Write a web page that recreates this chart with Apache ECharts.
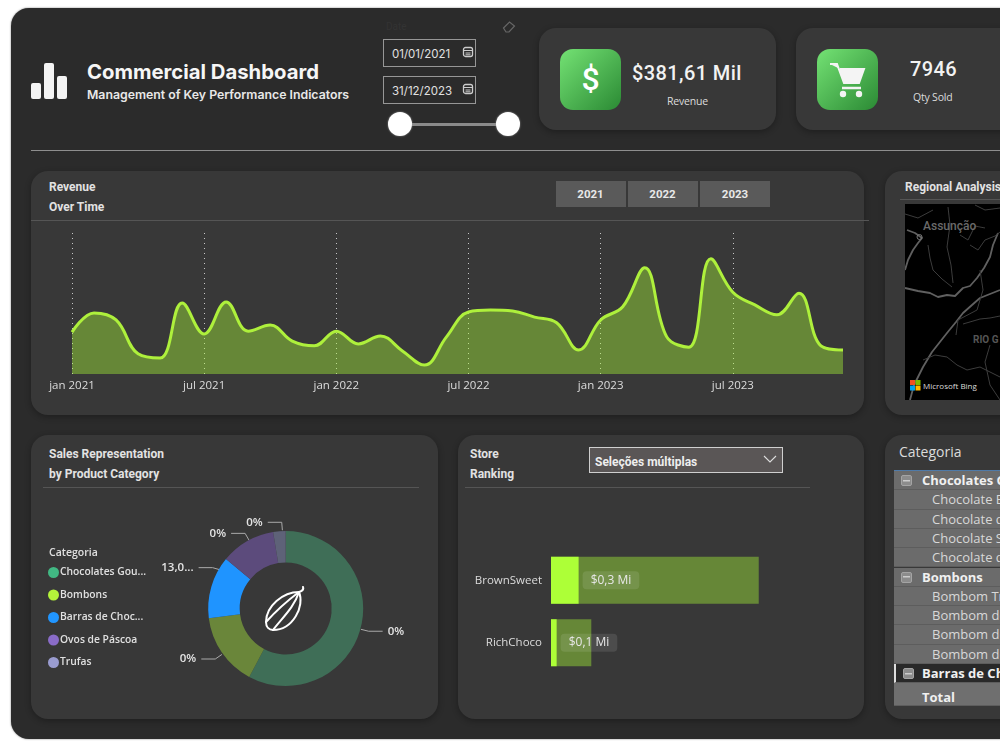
<!DOCTYPE html>
<html>
<head>
<meta charset="utf-8">
<title>Commercial Dashboard</title>
<script src="https://cdn.jsdelivr.net/npm/echarts@6/dist/echarts.min.js"></script>
<style>
	html, body {margin:0; padding:0; background:#fff; width:1000px; height:750px; overflow:hidden;}
	#stage {position:relative; width:1000px; height:750px; overflow:hidden; font-family:Roboto, sans-serif; color:#e4e4e4;}
	#stage div, #stage svg {position:absolute;}
	.board {left:11px; top:8px; width:1040px; height:731px; background:#2b2b2b; border-radius:18px; box-shadow:0 0 2px #777;}
	.panel {background:#383838; border-radius:17px; box-shadow:0 2px 6px rgba(0,0,0,.3);}
	.rule {height:1px; background:#555;}
	.title {font-weight:700; font-size:12px; line-height:15px; white-space:nowrap; color:#e2e2e2;}
	.datebox {left:383px; width:91px; height:26px; border:1.5px solid #969696; font:11.5px/28px Inter, sans-serif; text-indent:8px; color:#e0e0e0;}
	.year {top:181px; width:70px; height:26px; background:#5a5a5a; text-align:center; font:700 11.5px/26px Roboto, sans-serif; color:#e8e8e8;}
	.icon {width:61px; height:61px; top:49px; border-radius:13px; background:linear-gradient(135deg,#74e274,#2b8a34);}
	.kpi {font:500 20px/24px Roboto, sans-serif; letter-spacing:.4px; color:#f2f2f2; white-space:nowrap;}
	.kpilabel {font:10.5px/12px "Open Sans", sans-serif; letter-spacing:-.2px; color:#dcdcdc; white-space:nowrap;}
	.row {left:0; width:130px; height:19.3px; background:#6b6b6b; border-bottom:1px solid #5d5d5d; box-sizing:border-box; font:13px/19px "Open Sans", sans-serif; color:#d8d8d8; white-space:nowrap;}
	.row.group {font-weight:700; color:#f0f0f0;}
	.row.dark {background:#292929; border-left:2px solid #ddd;}
	.row.total {height:23px; line-height:28px; background:#6f6f6f; font-weight:700; color:#f0f0f0;}
</style>
</head>
<body>
<div id="stage">
	<div class="board"></div>

	<!-- cabecalho -->
	<div style="left:31px;top:83px;width:10px;height:16px;background:#f4f4f4;border-radius:2px"></div>
	<div style="left:44px;top:63px;width:10px;height:36px;background:#f4f4f4;border-radius:2px"></div>
	<div style="left:57px;top:76px;width:10px;height:23px;background:#f4f4f4;border-radius:2px"></div>
	<div style="left:87px;top:59.5px;font:700 20.3px/24px Inter,sans-serif;color:#f6f6f6;white-space:nowrap">Commercial Dashboard</div>
	<div style="left:87px;top:87px;font:600 12.3px/15px Inter,sans-serif;color:#e8e8e8;white-space:nowrap">Management of Key Performance Indicators</div>

	<div style="left:386px;top:21px;font:10px/12px Roboto,sans-serif;color:#333">Date</div>
	<svg style="left:502px;top:20px" width="14" height="14" viewBox="0 0 14 14"><path d="M1.5 8 L7.5 2 L12.5 6 L7 12 L4 12 Z" fill="none" stroke="#666" stroke-width="1.2"/></svg>
	<div class="datebox" style="top:39px">01/01/2021</div>
	<div class="datebox" style="top:76px">31/12/2023</div>
	<svg style="left:462px;top:46px" width="12" height="12" viewBox="0 0 12 12"><rect x="1.5" y="1.5" width="9" height="9" rx="2" fill="none" stroke="#ccc" stroke-width="1.3"/><path d="M2 4.5H10M3.5 7H8.5M3.5 8.8H8.5" stroke="#ccc"/></svg>
	<svg style="left:462px;top:83px" width="12" height="12" viewBox="0 0 12 12"><rect x="1.5" y="1.5" width="9" height="9" rx="2" fill="none" stroke="#ccc" stroke-width="1.3"/><path d="M2 4.5H10M3.5 7H8.5M3.5 8.8H8.5" stroke="#ccc"/></svg>
	<div style="left:400px;top:122.5px;width:108px;height:3px;background:#8a8a8a"></div>
	<div style="left:388px;top:112px;width:24px;height:24px;border-radius:50%;background:#fff;box-shadow:0 0 2px #999"></div>
	<div style="left:496px;top:112px;width:24px;height:24px;border-radius:50%;background:#fff;box-shadow:0 0 2px #999"></div>

	<div class="panel" style="left:539px;top:28px;width:237px;height:102px"></div>
	<div class="icon" style="left:560px"></div>
	<div style="left:560px;top:49px;width:61px;height:61px;text-align:center;font:500 32px/61px Roboto,sans-serif;color:#fff">$</div>
	<div class="kpi" style="left:632px;top:61px">$381,61 Mil</div>
	<div class="kpilabel" style="left:667px;top:95px">Revenue</div>

	<div class="panel" style="left:796px;top:28px;width:260px;height:102px"></div>
	<div class="icon" style="left:817px"></div>
	<svg style="left:829px;top:62px" width="38" height="36" viewBox="0 0 38 36"><path d="M1 2H8L15 21H30L35 7H11" fill="#f4f4f4" stroke="#f4f4f4" stroke-width="2"/><path d="M13 26H32" stroke="#f4f4f4" stroke-width="2.5"/><circle cx="14" cy="32" r="3.2" fill="#f4f4f4"/><circle cx="30" cy="32" r="3.2" fill="#f4f4f4"/></svg>
	<div class="kpi" style="left:910px;top:57px">7946</div>
	<div class="kpilabel" style="left:913px;top:91px">Qty Sold</div>
	<div style="left:31px;top:149.5px;width:980px;height:1.5px;background:#8e8e8e"></div>

	<!-- receita no tempo -->
	<div class="panel" style="left:31px;top:171px;width:833px;height:244px"></div>
	<div class="title" style="left:49px;top:180px">Revenue</div>
	<div class="title" style="left:49px;top:200px">Over Time</div>
	<div class="year" style="left:555.5px">2021</div>
	<div class="year" style="left:627.5px">2022</div>
	<div class="year" style="left:700px">2023</div>
	<div class="rule" style="left:31px;top:220px;width:838px"></div>
	<div id="lineChart" style="left:31px;top:221px;width:833px;height:194px"></div>

	<!-- mapa -->
	<div class="panel" style="left:885px;top:171px;width:170px;height:244px"></div>
	<div class="title" style="left:905px;top:180px">Regional Analysis</div>
	<div class="rule" style="left:900px;top:199px;width:110px"></div>
	<svg style="left:905px;top:204px" width="95" height="196" viewBox="905 204 95 196">
		<defs><filter id="soft"><feGaussianBlur stdDeviation=".7"/></filter></defs>
		<rect x="905" y="204" width="95" height="196" fill="#000"/>
		<g fill="none" filter="url(#soft)" stroke-linejoin="round">
			<g stroke="#606060" stroke-width="1.8">
				<polyline points="905,288 918,291 930,293 938,297 947,295 955,296 963,288 970,286 977,278 984,268 990,257 993,245 998,233"/>
				<polyline points="910,400 914,385 923,367 932,352 947,333 956,322 963,313 972,305 980,298 990,294 1000,290"/>
				<polyline points="905,270 908,260 913,250 918,243 922,238 915,233 907,230"/>
			</g>
			<g stroke="#3c3c3c" stroke-width="1">
				<polyline points="928,245 930,258 933,270 942,279 952,287"/>
				<polyline points="948,207 950,225 947,247 951,265 953,283"/>
				<polyline points="980,270 983,290 977,310 958,320 956,335"/>
				<polyline points="963,324 980,319 990,318 1000,316"/>
				<polyline points="923,360 935,355 947,357 957,365 967,370 980,367 990,372 1000,377"/>
				<polyline points="970,245 978,250 985,240 995,236 1000,232"/>
				<polyline points="933,210 918,218 905,214"/>
				<polyline points="975,205 985,210 1000,208"/>
				<polyline points="960,235 968,240 975,226 985,228"/>
				<polyline points="990,345 985,362 990,385 1000,400"/>
			</g>
		</g>
		<circle cx="919.5" cy="237" r="2.5" fill="none" stroke="#777"/>
		<text x="923" y="230" font-family="Roboto" font-weight="500" font-size="12" fill="#6a6a6a">Assunção</text>
		<text x="973" y="343" font-family="Roboto" font-weight="700" font-size="10" fill="#555">RIO G</text>
		<rect x="910" y="380" width="5" height="5" fill="#f25022"/><rect x="915.5" y="380" width="5" height="5" fill="#7fba00"/>
		<rect x="910" y="385.5" width="5" height="5" fill="#00a4ef"/><rect x="915.5" y="385.5" width="5" height="5" fill="#ffb900"/>
		<text x="923" y="388.5" font-family="Open Sans" font-size="8" fill="#dcdcdc">Microsoft Bing</text>
	</svg>

	<!-- categorias -->
	<div class="panel" style="left:31px;top:435px;width:407px;height:284px"></div>
	<div class="title" style="left:49px;top:447px">Sales Representation</div>
	<div class="title" style="left:49px;top:467px">by Product Category</div>
	<div class="rule" style="left:43px;top:487px;width:376px"></div>
	<div id="pieChart" style="left:31px;top:488px;width:407px;height:231px"></div>
	<div style="left:49px;top:545px;font:600 10.5px/14px 'Open Sans',sans-serif;color:#e0e0e0">Categoria</div>
	<svg style="left:263px;top:586px" width="46" height="46" viewBox="0 0 46 46" fill="none" stroke="#fff" stroke-width="2" stroke-linecap="round">
		<path d="M3 36 C3 20 20 6 36 6 C42 20 30 44 10 44 C6 44 3 41 3 36 Z"/>
		<path d="M10 44 C18 33 31 22 36 6"/>
		<path d="M3 36 C12 26 24 15 36 6"/>
		<path d="M36 6 C39 5 41 4 40 1"/>
	</svg>

	<!-- ranking -->
	<div class="panel" style="left:458px;top:435px;width:406px;height:284px"></div>
	<div class="title" style="left:470px;top:447px">Store</div>
	<div class="title" style="left:470px;top:467px">Ranking</div>
	<div style="left:589px;top:447px;width:192px;height:24px;border:1.3px solid #cfcfcf;background:#5a5656;font:700 12px/28px Roboto,sans-serif;text-indent:5px;color:#eee">Seleções múltiplas</div>
	<svg style="left:763px;top:455px" width="14" height="9" viewBox="0 0 14 9"><path d="M1 1 L7 7 L13 1" fill="none" stroke="#ddd" stroke-width="1.1"/></svg>
	<div class="rule" style="left:465px;top:487px;width:345px"></div>
	<div id="barChart" style="left:458px;top:488px;width:406px;height:231px"></div>

	<!-- tabela -->
	<div class="panel" style="left:885px;top:435px;width:170px;height:284px"></div>
	<div style="left:899px;top:443px;font:14px/18px 'Open Sans',sans-serif;color:#dcdcdc">Categoria</div>
	<div id="tree" style="left:894px;top:470px;width:106px;height:236px;overflow:hidden;border-top:1px solid #4f7aa8"></div>
</div>

<script>
'use strict';
(function(){
	//dados
	var months = [
		'jan 2021','fev 2021','mar 2021','abr 2021','mai 2021','jun 2021','jul 2021','ago 2021','set 2021','out 2021','nov 2021','dez 2021',
		'jan 2022','fev 2022','mar 2022','abr 2022','mai 2022','jun 2022','jul 2022','ago 2022','set 2022','out 2022','nov 2022','dez 2022',
		'jan 2023','fev 2023','mar 2023','abr 2023','mai 2023','jun 2023','jul 2023','ago 2023','set 2023','out 2023','nov 2023','dez 2023'
	];
	var revenue = [
		8.9,13.0,11.5,4.3,3.4,15.1,8.5,15.3,9.1,10.4,7.0,6.0,
		9.1,6.4,8.1,4.9,1.9,7.9,13.2,13.6,13.4,12.1,10.9,5.1,
		11.5,14.3,22.6,7.9,5.7,24.5,17.4,14.7,12.6,17.2,6.0,5.1
	];
	var categories = ['Chocolates Gou...','Bombons','Barras de Choc...','Ovos de Páscoa','Trufas'];
	var categoryShare = [57.8,15.2,13.0,11.4,2.6];
	var categoryLabels = ['0%','0%','13,0...','0%','0%'];
	var stores = ['BrownSweet','RichChoco'];
	var storeRevenue = [0.3196,0.062];
	var storeHighlight = [0.0425,0.0087];
	var storeLabels = ['$0,3 Mi','$0,1 Mi'];
	var treeRows = [
		['Chocolates Gourmet',1],['Chocolate B',0],['Chocolate d',0],['Chocolate S',0],['Chocolate d',0],
		['Bombons',1],['Bombom Tr',0],['Bombom de',0],['Bombom de',0],['Bombom de',0],
		['Barras de Chocolate',2],['Total',3]
	];

	var LIME = '#adff37';
	var sliceColors = ['#3f6e57','#6a863a','#1f94ff','#5c4b7c','#5e6278'];
	var legendColors = ['#41b883','#b4f43a','#2196ff','#8a6cc8','#9a9cd0'];
	//ajuste fino dos rotulos da rosca, como o Power BI os deixa
	var labelNudgeX = [0,0,9,2,3];
	var labelNudgeY = [2,2,-17,-1,-1];

	var Page = {
		init: function(){
			Page.Render.line();
			Page.Render.pie();
			Page.Render.bar();
			Page.Render.tree();
		}
	};

	Page.Render = (function(){
		return {
			line: function() {
				var chart = echarts.init(document.getElementById('lineChart'));
				chart.setOption({
					animation: false,
					grid: {left: 41, right: 21, top: 12, bottom: 41},
					xAxis: {
						type: 'category',
						data: months,
						boundaryGap: false,
						axisLine: {show: false},
						axisTick: {show: false},
						axisLabel: {interval: 5, color: '#dcdcdc', fontSize: 11.5, fontFamily: 'Open Sans', margin: 6},
						splitLine: {show: true, interval: 5, lineStyle: {color: '#c8c8c8', type: [1, 4], width: 1}}
					},
					yAxis: {type: 'value', min: 0, max: 30, show: false},
					series: [{
						type: 'line',
						data: revenue,
						smooth: 0.4,
						symbol: 'none',
						lineStyle: {color: '#aef03c', width: 3},
						areaStyle: {color: LIME, opacity: 0.4}
					}]
				});
			},
			pie: function() {
				var chart = echarts.init(document.getElementById('pieChart'));
				chart.setOption({
					animation: false,
					legend: {
						orient: 'vertical',
						left: 12,
						top: 74,
						itemWidth: 11,
						itemHeight: 11,
						itemGap: 11.5,
						icon: 'circle',
						textStyle: {color: '#e0e0e0', fontSize: 10.3, fontFamily: 'Open Sans', fontWeight: 600, padding: [0, 0, 0, -4]},
						data: categories.map(function(name, i){
							return {name: name, itemStyle: {color: legendColors[i]}};
						})
					},
					series: [{
						type: 'pie',
						center: [254.7, 120.5],
						radius: [46, 77.5],
						startAngle: 90,
						avoidLabelOverlap: false,
						label: {
							color: '#e4e4e4',
							fontSize: 11.5,
							fontWeight: 600,
							fontFamily: 'Open Sans',
							formatter: function(p){ return categoryLabels[p.dataIndex]; }
						},
						labelLine: {length: 8, length2: 14, lineStyle: {color: '#aaa', width: 1}},
						labelLayout: function(p){
							var dx = labelNudgeX[p.dataIndex];
							var dy = labelNudgeY[p.dataIndex];
							return {
								dx: dx,
								dy: dy,
								labelLinePoints: p.labelLinePoints.map(function(pt){
									return [pt[0] + dx, pt[1] + dy];
								})
							};
						},
						data: categories.map(function(name, i){
							return {name: name, value: categoryShare[i], itemStyle: {color: sliceColors[i]}};
						})
					}]
				});
			},
			bar: function() {
				var chart = echarts.init(document.getElementById('barChart'));
				chart.setOption({
					animation: false,
					grid: {left: 93, top: 61, width: 260, height: 125},
					xAxis: {type: 'value', min: 0, max: 0.4, show: false},
					yAxis: {
						type: 'category',
						inverse: true,
						data: stores,
						axisLine: {show: false},
						axisTick: {show: false},
						axisLabel: {color: '#dcdcdc', fontSize: 11.5, fontFamily: 'Open Sans', margin: 9}
					},
					series: [{
						type: 'bar',
						data: storeRevenue,
						barWidth: 47,
						barGap: '-100%',
						itemStyle: {color: LIME, opacity: 0.4}
					}, {
						type: 'bar',
						data: storeHighlight,
						barWidth: 47,
						itemStyle: {color: LIME},
						label: {
							show: true,
							position: 'right',
							distance: 4,
							color: '#e8e8e8',
							fontSize: 12,
							fontFamily: 'Open Sans',
							backgroundColor: 'rgba(255,255,255,.1)',
							borderRadius: 4,
							padding: [3, 8],
							formatter: function(p){ return storeLabels[p.dataIndex]; }
						}
					}]
				});
			},
			tree: function() {
				var box = document.getElementById('tree');
				treeRows.forEach(function(row, i){
					var el = document.createElement('div');
					var kind = row[1];
					el.className = 'row' + (kind == 1 ? ' group' : kind == 2 ? ' group dark' : kind == 3 ? ' total' : '');
					el.style.top = (i * 19.3) + 'px';
					el.style.paddingLeft = (kind == 0 ? 38 : kind == 2 ? 26 : 28) + 'px';
					el.textContent = row[0];
					box.appendChild(el);
					if (kind == 1 || kind == 2) {
						//icone de recolher
						var sign = document.createElement('div');
						sign.style.cssText = 'left:7px;top:4px;width:9px;height:9px;border:1.3px solid #a4a4a4;border-radius:2px;background:linear-gradient(#ccc,#ccc) center/7px 1.5px no-repeat #8c8c8c';
						el.appendChild(sign);
					}
				});
			}
		};
	}());

	Page.init();
}.call(this));
</script>
</body>
</html>
